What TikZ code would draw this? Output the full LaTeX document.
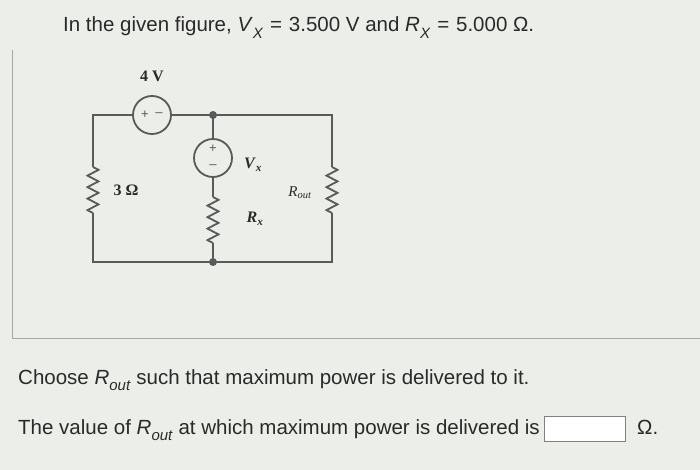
\documentclass[tikz,border=0pt]{standalone}
\usepackage{fontspec}
\setmainfont{Liberation Sans}
\newfontfamily\serifc{Liberation Serif}
\usetikzlibrary{decorations.pathmorphing}
\definecolor{bg}{HTML}{ECEEEA}
\definecolor{wire}{HTML}{5A5A5A}
\definecolor{txt}{HTML}{2A2A2A}
\newcommand{\subx}[1]{\raisebox{-0.3em}{\fontsize{15}{16}\selectfont #1}}
\begin{document}
\begin{tikzpicture}[x=1pt,y=-1pt,
  wirest/.style={draw=wire,line width=1.8pt},
  res/.style={draw=wire,line width=1.8pt,decorate,decoration={zigzag,segment length=11.5,amplitude=5.5}},
  src/.style={circle,draw=wire,line width=1.8pt,minimum size=38pt,inner sep=0pt,fill=bg},
  dotst/.style={circle,fill=wire,inner sep=0pt,minimum size=8pt},
  lab/.style={text=txt,font=\serifc\fontsize{16}{18}\selectfont\bfseries},
  sgn/.style={text=wire,inner sep=0pt,font=\fontsize{13}{13}\selectfont},
  qtxt/.style={text=txt,anchor=base west,inner sep=0pt,font=\fontsize{20.5}{23}\selectfont}]
\useasboundingbox (0,0) rectangle (700,470);
\fill[bg] (0,0) rectangle (700,470);
\draw[gray!70,line width=1pt] (12,50) -- (12,338) -- (700,338);
\node[qtxt] (title) at (63,32) {In the given figure, \textit{V}\subx{\textit{X}}\,\,=\,\,3.500 V and \textit{R}\subx{\textit{X}}\,\,=\,\,5.000 Ω.};
% circuit
\coordinate (tl) at (93,115); \coordinate (tr) at (332,115);
\coordinate (bl) at (93,262); \coordinate (br) at (332,262);
\coordinate (tm) at (213,115); \coordinate (bm) at (213,262);
\coordinate (r1a) at (93,167); \coordinate (r1b) at (93,213);
\coordinate (r2a) at (213,197); \coordinate (r2b) at (213,243);
\coordinate (r3a) at (332,167); \coordinate (r3b) at (332,213);
\draw[wirest] (r1a) -- (tl) -- (tr) -- (r3a);
\draw[wirest] (r3b) -- (br) -- (bl) -- (r1b);
\draw[wirest] (tm) -- (r2a); \draw[wirest] (r2b) -- (bm);
\draw[res] (r1a) -- (r1b);
\draw[res] (r2a) -- (r2b);
\draw[res] (r3a) -- (r3b);
\node[src] (s4) at (152,115) {};
\node[sgn] (p4) at ([xshift=-7]s4.center) {+};
\node[sgn] (m4) at ([xshift=7]s4.center) {–};
\node[src] (sx) at (213,158) {};
\node[sgn] (px) at ([yshift=9]sx.center) {+};
\node[sgn] (mx) at ([yshift=-9]sx.center) {–};
\node[dotst] (d1) at (tm) {}; \node[dotst] (d2) at (bm) {};
\node[lab] (l4) at (152,76) {4 V};
\node[lab] (l3) at (126,190) {3 Ω};
\node[lab] (lvx) at (253,165) {\textit{V}\textsubscript{\textit{x}}};
\node[lab] (lrx) at (255,219) {\textit{R}\textsubscript{\textit{x}}};
\node[lab,font=\serifc\fontsize{15}{16}\selectfont\itshape] (lro) at (300,193) {R\textsubscript{out}};
% questions
\node[qtxt] (q1) at (18,384) {Choose \textit{R}\subx{\textit{out}} such that maximum power is delivered to it.};
\node[qtxt] (q2) at (18,434) {The value of \textit{R}\subx{\textit{out}} at which maximum power is delivered is};
\node[draw=gray,fill=white,line width=0.8pt,minimum width=81pt,minimum height=25pt,inner sep=0pt] (box) at (584.5,429) {};
\node[qtxt] (om) at (637,434) {Ω.};
\end{tikzpicture}
\end{document}
